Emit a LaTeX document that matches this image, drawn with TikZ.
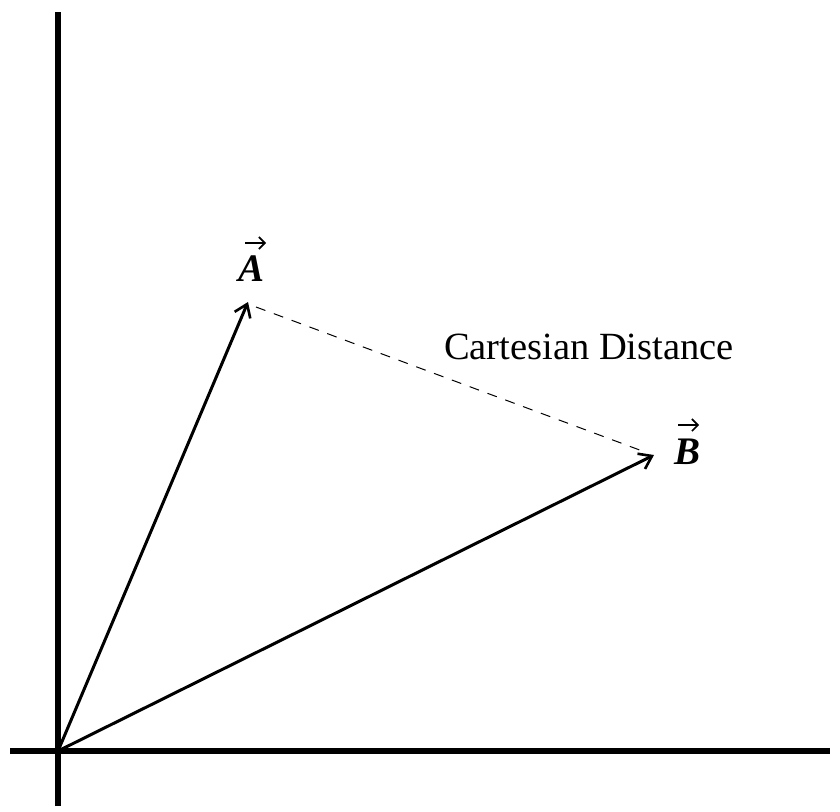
\documentclass[tikz,border=0pt]{standalone}
\usepackage{fontspec}
\setmainfont{Liberation Serif}
\usetikzlibrary{arrows.meta}
\begin{document}
\begin{tikzpicture}[x=1pt,y=-1pt,
  axis/.style={line width=5.5pt},
  vect/.style={line width=3pt,-{Straight Barb[length=12pt,width=17pt,line width=2.6pt]}},
  dist/.style={line width=1pt,dash pattern=on 10pt off 9pt},
  lbl/.style={font=\fontsize{39}{39}\selectfont\bfseries\itshape,inner sep=0pt},
  vecarr/.style={line width=1.8pt,-{Straight Barb[length=6pt,width=12pt,line width=1.6pt]}}]
\useasboundingbox (0,0) rectangle (840,811);
\coordinate (O) at (58,751);
\coordinate (Atip) at (248,302);
\coordinate (Btip) at (654,455);
\coordinate (ytop) at (58,12);
\coordinate (ybot) at (58,806);
\coordinate (xl) at (10,751);
\coordinate (xr) at (830,751);
\draw[axis] (ybot) -- (ytop);
\draw[axis] (xl) -- (xr);
\draw[vect] (O) -- (Atip);
\draw[vect] (O) -- (Btip);
\coordinate (ds) at (256,307);
\coordinate (de) at (645,452);
\draw[dist] (ds) -- (de);
\node[lbl] (A) at (252,269) {A};
\coordinate (Aa1) at (245,243);
\coordinate (Aa2) at (266,243);
\draw[vecarr] (Aa1) -- (Aa2);
\node[lbl] (B) at (687,452) {B};
\coordinate (Ba1) at (678,425);
\coordinate (Ba2) at (699,425);
\draw[vecarr] (Ba1) -- (Ba2);
\node[font=\fontsize{38.5}{38.5}\selectfont,inner sep=0pt] (cd) at (589,347) {Cartesian Distance};
\end{tikzpicture}
\end{document}
